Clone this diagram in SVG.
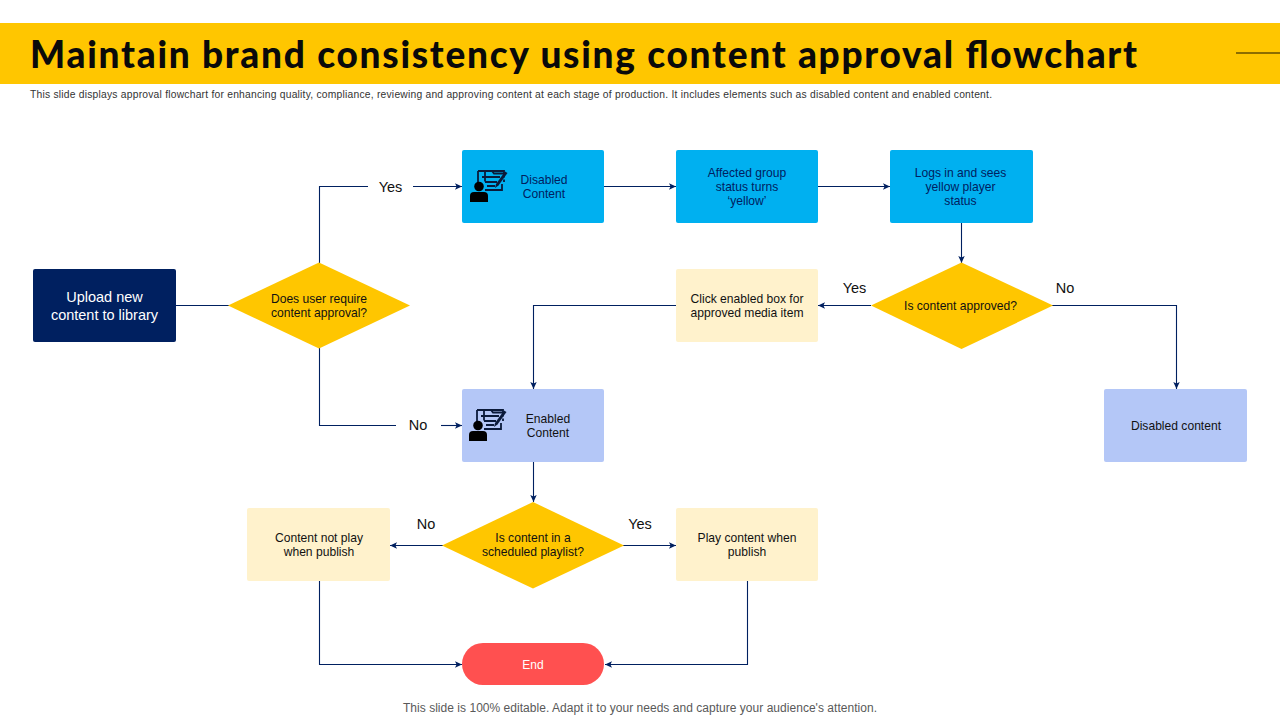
<svg xmlns="http://www.w3.org/2000/svg" width="1280" height="720" viewBox="0 0 1280 720">
<style>
text{font-family:"Liberation Sans",Arial,sans-serif;text-anchor:middle}
.t{font-size:12.1px;fill:#111}
.tb{font-size:12.1px;fill:#002060}
.l{font-size:14.5px;fill:#111}
.c{fill:none;stroke:#002060;stroke-width:1.1}
.a{marker-end:url(#ah)}
</style>
<defs>
<marker id="ah" markerUnits="userSpaceOnUse" markerWidth="8" markerHeight="8" refX="7" refY="4" orient="auto"><path d="M0 .8L7 4L0 7.2L1.6 4Z" fill="#002060"/></marker>
<g id="icon">
<path d="M15 11.500V1H34V7.500M34 9.500V12M32 14V20H15" fill="none" stroke="#0b1a3a" stroke-width="1.800"/>
<path d="M8 1H22L24 3.500H34M8 1V12" fill="none" stroke="#0b1a3a" stroke-width="1.800"/>
<path d="M12 7H30M15 12H27M17 16H25" fill="none" stroke="#0b1a3a" stroke-width="1.800"/>
<path d="M26 14L35 1.500L37.500 3L28.500 15.500L25 18Z" fill="#0b1a3a"/>
<circle cx="9" cy="16.500" r="4.800" fill="#000"/>
<path d="M0 32V26Q0 22 4 22H14Q18 22 18 26V32Z" fill="#000"/>
</g>
</defs>
<rect width="1280" height="720" fill="#fff"/>
<g id="header">
<rect y="23" width="1280" height="61" fill="#ffc600"/>
<text x="30" y="68" style="text-anchor:start;font-family:Lato,'Liberation Sans',sans-serif;font-weight:900;font-size:37px;fill:#0a0a0a" textLength="1107" lengthAdjust="spacing">Maintain brand consistency using content approval flowchart</text>
<line x1="1236" y1="53" x2="1280" y2="53" stroke="#1a1400" stroke-width="1"/>
<text x="30" y="98" style="text-anchor:start;font-size:10.300px;fill:#333" textLength="962">This slide displays approval flowchart for enhancing quality, compliance, reviewing and approving content at each stage of production. It includes elements such as  disabled content and enabled content.</text>
</g>
<g id="connectors">
<path class="c" d="M176 305.500H229"/>
<path class="c" d="M319.500 263V186.500H368"/>
<path class="c a" d="M413 186.500H462"/>
<path class="c" d="M319.500 348V425.500H396"/>
<path class="c a" d="M441 425.500H462"/>
<path class="c a" d="M604 186.500H676"/>
<path class="c a" d="M818 186.500H890"/>
<path class="c a" d="M961.500 223V263"/>
<path class="c a" d="M871 305.500H818"/>
<path class="c a" d="M676 305.500H533.500V389"/>
<path class="c a" d="M1052 305.500H1176.500V389"/>
<path class="c a" d="M533.500 462V502"/>
<path class="c a" d="M443 545.500H390"/>
<path class="c a" d="M623 545.500H676"/>
<path class="c a" d="M319.500 581V664.500H462"/>
<path class="c a" d="M747.500 581V664.500H605"/>
</g>
<g id="upload"><rect x="33" y="269" width="143" height="73" rx="2" fill="#002060"/><text x="104.500" y="302" style="font-size:14.500px;fill:#fff">Upload new</text><text x="104.500" y="320" style="font-size:14.500px;fill:#fff">content to library</text></g>
<g id="q-approval"><path d="M228 305.500L319 262.500L410 305.500L319 348.500Z" fill="#ffc600"/><text class="t" x="319" y="303">Does user require</text><text class="t" x="319" y="317">content approval?</text></g>
<g id="disabled-content-a"><rect x="462" y="150" width="142" height="73" rx="2" fill="#00b0f0"/><use href="#icon" x="470" y="170"/><text class="tb" x="544" y="184">Disabled</text><text class="tb" x="544" y="198">Content</text></g>
<g id="affected"><rect x="676" y="150" width="142" height="73" rx="2" fill="#00b0f0"/><text class="tb" x="747" y="177">Affected group</text><text class="tb" x="747" y="191">status turns</text><text class="tb" x="747" y="205">‘yellow’</text></g>
<g id="logs"><rect x="890" y="150" width="143" height="73" rx="2" fill="#00b0f0"/><text class="tb" x="960.500" y="177">Logs in and sees</text><text class="tb" x="960.500" y="191">yellow player</text><text class="tb" x="960.500" y="205">status</text></g>
<g id="q-content"><path d="M871 305.500L961.500 262.500L1053 305.500L961.500 349Z" fill="#ffc600"/><text class="t" x="960.500" y="310">Is content approved?</text></g>
<g id="click"><rect x="676" y="269" width="142" height="73" rx="2" fill="#fff2cc"/><text class="t" x="747" y="303">Click enabled box for</text><text class="t" x="747" y="317">approved media item</text></g>
<g id="enabled"><rect x="462" y="389" width="142" height="73" rx="2" fill="#b4c7f7"/><use href="#icon" x="469" y="409"/><text class="t" x="548" y="423">Enabled</text><text class="t" x="548" y="437">Content</text></g>
<g id="disabled-content-b"><rect x="1104" y="389" width="143" height="73" rx="2" fill="#b4c7f7"/><text class="t" x="1176" y="430">Disabled content</text></g>
<g id="q-playlist"><path d="M442 545.500L533 502L624 545.500L533 588.500Z" fill="#ffc600"/><text class="t" x="533" y="542">Is content in a</text><text class="t" x="533" y="556">scheduled playlist?</text></g>
<g id="notplay"><rect x="247" y="508" width="143" height="73" rx="2" fill="#fff2cc"/><text class="t" x="319" y="542">Content not play</text><text class="t" x="319" y="556">when publish</text></g>
<g id="play"><rect x="676" y="508" width="142" height="73" rx="2" fill="#fff2cc"/><text class="t" x="747" y="542">Play content when</text><text class="t" x="747" y="556">publish</text></g>
<g id="end"><rect x="462" y="643" width="142" height="42" rx="21" fill="#ff5050"/><text x="533" y="669" style="font-size:12px;fill:#fff">End</text></g>
<g id="labels">
<text class="l" x="390.500" y="192">Yes</text>
<text class="l" x="418" y="430">No</text>
<text class="l" x="854.500" y="293">Yes</text>
<text class="l" x="1065" y="293">No</text>
<text class="l" x="426" y="529">No</text>
<text class="l" x="640" y="529">Yes</text>
</g>
<text x="640" y="712" style="font-size:12px;fill:#595959" textLength="474">This slide is 100% editable. Adapt it to your needs and capture your audience's attention.</text>
</svg>
